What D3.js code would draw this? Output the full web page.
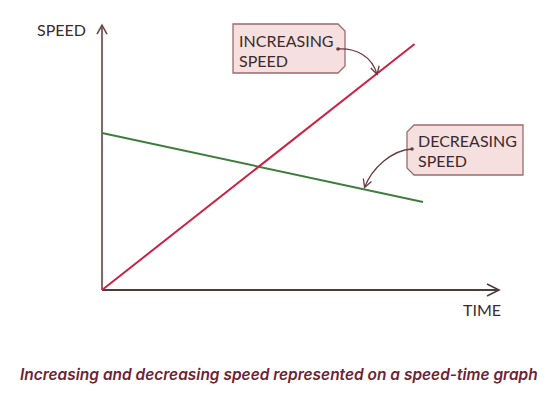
<!DOCTYPE html>
<html><head><meta charset="utf-8">
<script src="https://cdn.jsdelivr.net/npm/d3@7"></script>
<style>body{margin:0;background:#fff}svg{display:block}</style>
</head><body>
<script>
// Data (arbitrary units)
const seriesNames = ["INCREASING SPEED", "DECREASING SPEED"];
const increasingTime = [0, 10];
const increasingSpeed = [0, 10];
const decreasingTime = [0, 10.27];
const decreasingSpeed = [6.38, 3.58];
const axisLabels = ["SPEED", "TIME"];
const title = "Increasing and decreasing speed represented on a speed-time graph";

const W = 555, H = 393;
const svg = d3.select("body").append("svg").attr("width", W).attr("height", H);

const x = d3.scaleLinear().domain([0, 12.7]).range([102, 499]);
const y = d3.scaleLinear().domain([0, 10]).range([290, 44]);
const yTop = 10.77;

const txt = "#3b2a2e";

// axes
svg.append("line").attr("x1", x(0)).attr("y1", y(0)).attr("x2", x(0)).attr("y2", y(yTop))
  .attr("stroke", "#8c6464").attr("stroke-width", 2);
svg.append("path").attr("d", `M${x(0)-5},${y(yTop)+9} L${x(0)},${y(yTop)} L${x(0)+5},${y(yTop)+9}`)
  .attr("fill", "none").attr("stroke", "#6e4a4a").attr("stroke-width", 1.6);
svg.append("line").attr("x1", x(0)).attr("y1", y(0)).attr("x2", x(12.7)).attr("y2", y(0))
  .attr("stroke", "#4d3c3c").attr("stroke-width", 2);
svg.append("path").attr("d", `M${x(12.7)-12},${y(0)-6} L${x(12.7)},${y(0)} L${x(12.7)-12},${y(0)+6}`)
  .attr("fill", "none").attr("stroke", "#4d3c3c").attr("stroke-width", 1.6);

svg.append("text").attr("x", 37).attr("y", 36).attr("font-family", "Lato").attr("font-size", 16)
  .attr("fill", txt).text(axisLabels[0]);
svg.append("text").attr("x", 463).attr("y", 316).attr("font-family", "Lato").attr("font-size", 16)
  .attr("fill", txt).text(axisLabels[1]);

const line = d3.line().x(d => x(d[0])).y(d => y(d[1]));
svg.append("path").datum(decreasingTime.map((t, i) => [t, decreasingSpeed[i]]))
  .attr("d", line).attr("fill", "none").attr("stroke", "#3f7d3c").attr("stroke-width", 2);
svg.append("path").datum(increasingTime.map((t, i) => [t, increasingSpeed[i]]))
  .attr("d", line).attr("fill", "none").attr("stroke", "#cc2244").attr("stroke-width", 2);

// tags
const fill = "#f5dfdf", stroke = "#9c6b6b";
function tag(x0, y0, w, h, side) {
  const c = 7;
  let d;
  if (side === "right") {
    d = `M${x0},${y0} L${x0+w-c},${y0} L${x0+w},${y0+c} L${x0+w},${y0+h-c} L${x0+w-c},${y0+h} L${x0},${y0+h} Z`;
  } else {
    d = `M${x0+c},${y0} L${x0+w},${y0} L${x0+w},${y0+h} L${x0+c},${y0+h} L${x0},${y0+h-c} L${x0},${y0+c} Z`;
  }
  svg.append("path").attr("d", d).attr("fill", fill).attr("stroke", stroke).attr("stroke-width", 1.3);
}
function words(x0, y0, lines) {
  lines.forEach((l, i) => svg.append("text").attr("x", x0).attr("y", y0 + i * 20)
    .attr("font-family", "Lato").attr("font-size", 16).attr("fill", txt).text(l));
}
const arrowCol = "#6a3a3e";
function arrow(d, tip, ang) {
  svg.append("path").attr("d", d).attr("fill", "none").attr("stroke", arrowCol).attr("stroke-width", 1.3);
  const a1 = ang + 0.5, a2 = ang - 0.5, L = 9;
  svg.append("path").attr("d", `M${tip[0]-L*Math.cos(a1)},${tip[1]-L*Math.sin(a1)} L${tip[0]},${tip[1]} L${tip[0]-L*Math.cos(a2)},${tip[1]-L*Math.sin(a2)}`)
    .attr("fill", "none").attr("stroke", arrowCol).attr("stroke-width", 1.3);
}

// increasing tag
tag(233, 24, 112, 49, "right");
words(239, 47, seriesNames[0].split(" "));
svg.append("circle").attr("cx", 338).attr("cy", 49).attr("r", 1.8).attr("fill", arrowCol);
const tipA = [x(8.8), y(8.8) + 1];
arrow(`M338,49 C356,48 372,56 ${tipA[0]},${tipA[1]}`, tipA, Math.atan2(tipA[1]-56, tipA[0]-372));

// decreasing tag
tag(407, 125, 116, 50, "left");
words(418, 147, seriesNames[1].split(" "));
svg.append("circle").attr("cx", 412).attr("cy", 149).attr("r", 1.8).attr("fill", arrowCol);
const tipB = [x(8.4), y(6.38 + (3.58-6.38) * 8.4/10.27) - 2];
arrow(`M412,149 C392,150 372,168 ${tipB[0]},${tipB[1]}`, tipB, Math.atan2(tipB[1]-168, tipB[0]-372));

// title
const t = svg.append("text").attr("x", 20).attr("y", 380).attr("font-family", "Inter")
  .attr("font-style", "italic").attr("font-weight", 600).attr("font-size", 14)
  .attr("fill", "#6e2434").text(title);
const len = t.node().getComputedTextLength();
t.attr("font-size", 14 * 518 / len);
</script>
</body></html>
